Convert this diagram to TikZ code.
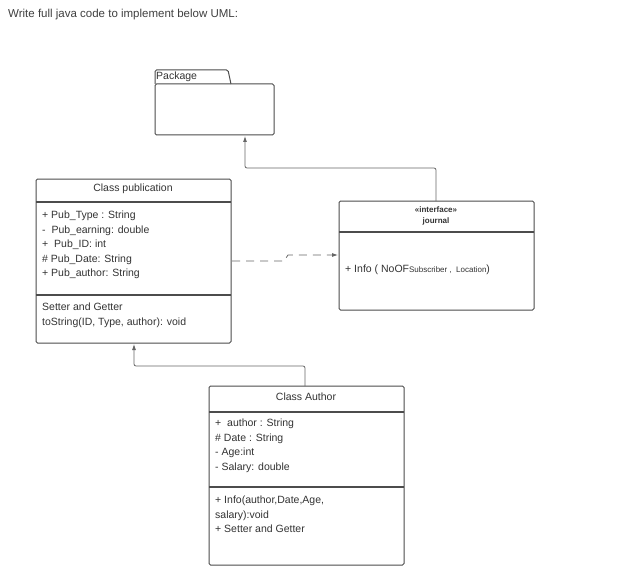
\documentclass[tikz,border=0pt]{standalone}
\usepackage{fontspec}
\setmainfont{Liberation Sans}
\usetikzlibrary{arrows.meta}
\begin{document}
\begin{tikzpicture}[x=1pt,y=-1pt,
  box/.style={draw=black!70,line width=1pt,rounded corners=1.5pt},
  sep/.style={draw=black!70,line width=1.6pt},
  txt/.style={font=\fontsize{10.5}{14.4}\selectfont,text=black!80,inner sep=0pt},
  conn/.style={draw=black!60,line width=0.8pt,-{Latex[length=6pt,width=4pt]}}]
\useasboundingbox[fill=white] (0,0) rectangle (629,583);
\node[anchor=west,inner sep=0pt,font=\fontsize{11.5}{14}\selectfont,text=black!75] (title) at (8,15) {Write full java code to implement below UML:};
% package
\draw[box] (155,84) -- (155,70) -- (228,70) -- (231,84);
\draw[box] (155,84) rectangle (274,135);
\node[txt,anchor=west] (pkg) at (156,77) {Package};
\coordinate (pkgin) at (245,136);
% publication
\draw[box] (36,179) rectangle (231,343);
\draw[sep] (36,202) -- (231,202);
\draw[sep] (36,295) -- (231,295);
\node[txt] (pubt) at (133,189) {Class publication};
\node[txt,anchor=north west,align=left] (pubattr) at (42,211) {+ Pub\_Type : String\\- \ Pub\_earning: double\\+ \ Pub\_ID: int\\\# Pub\_Date: String\\+ Pub\_author: String};
\node[txt,anchor=north west,align=left] (pubm) at (42,303) {Setter and Getter\\toString(ID, Type, author): void};
\coordinate (pubbot) at (134,344);
% journal
\draw[box] (339,201) rectangle (534,310);
\draw[sep] (339,232) -- (534,232);
\node[txt,align=center,font=\fontsize{8}{11}\selectfont\bfseries] (jt) at (436,216) {\textless\textless interface\textgreater\textgreater\\journal};
\node[txt,anchor=west] (jm) at (345,270) {+ Info ( NoOF{\fontsize{8}{10}\selectfont Subscriber ,\ \ Location})};
\coordinate (jtop) at (436,201);
% author
\draw[box] (209,386) rectangle (404,565);
\draw[sep] (209,412) -- (404,412);
\draw[sep] (209,487) -- (404,487);
\node[txt] (at) at (306,397) {Class Author};
\node[txt,anchor=north west,align=left] (aattr) at (215,419) {+ \ author : String\\\# Date : String\\- Age:int\\- Salary: double};
\node[txt,anchor=north west,align=left] (am) at (215,496) {+ Info(author,Date,Age,\\salary):void\\+ Setter and Getter};
\coordinate (atop) at (305,386);
% connectors
\draw[conn,rounded corners=2pt] (jtop) -- (436,168) -- (245,168) -- (pkgin);
\draw[conn,rounded corners=2pt] (atop) -- (305,366) -- (134,366) -- (pubbot);
\draw[conn,dashed,dash pattern=on 8pt off 6pt] (232,261) -- (284,261) -- (288,255) -- (338,255);
\end{tikzpicture}
\end{document}
